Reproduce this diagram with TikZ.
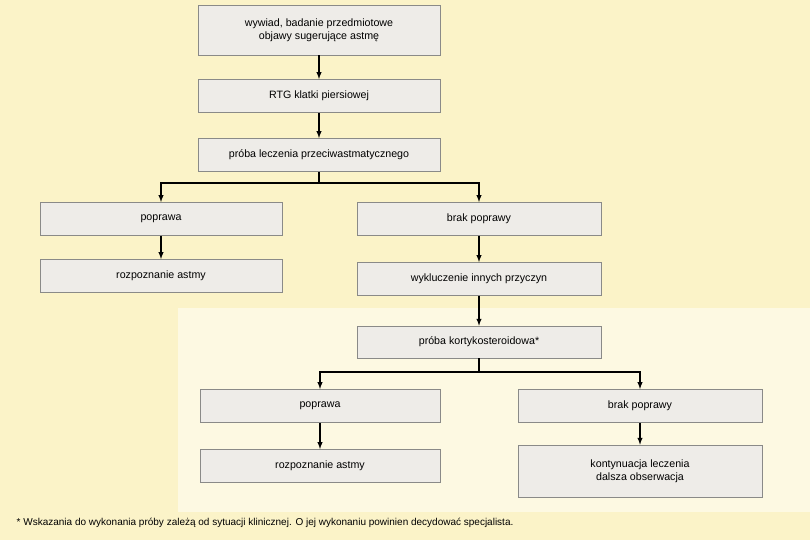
\documentclass[tikz,border=0pt]{standalone}
\usepackage{fontspec}
\setmainfont{Liberation Sans}
\usetikzlibrary{positioning}
\definecolor{bgyel}{HTML}{FBF3C8}
\definecolor{bgpale}{HTML}{FDF9E2}
\definecolor{boxfill}{HTML}{EEECE8}
\definecolor{boxline}{HTML}{8A8A88}
\begin{document}
\begin{tikzpicture}[x=0.75pt,y=-0.75pt,
    box/.style={draw=boxline, fill=boxfill, font=\fontsize{8}{10}\selectfont, align=center, inner sep=0pt},
    arr/.style={draw, thick, -latex},
    line/.style={draw, thick}
]
\fill[bgyel] (0,0) rectangle (810,540);
\useasboundingbox (0,0) rectangle (810,540);
\fill[bgpale] (178,308) rectangle (810,512);

% boxes
\node[box, minimum width=181.5pt, minimum height=37.5pt] (wywiad) at (319,30) {wywiad, badanie przedmiotowe\\objawy sugerujące astmę};
\node[box, minimum width=181.5pt, minimum height=25pt] (rtg) at (319,96) {RTG klatki piersiowej};
\node[box, minimum width=181.5pt, minimum height=25pt] (proba) at (319,155) {próba leczenia przeciwastmatycznego};
\node[box, minimum width=181.5pt, minimum height=25pt] (popr1) at (161,219) {poprawa};
\node[box, minimum width=183pt, minimum height=25pt] (brak1) at (479,219) {brak poprawy};
\node[box, minimum width=181.5pt, minimum height=25pt] (rozp1) at (161,276) {rozpoznanie astmy};
\node[box, minimum width=183pt, minimum height=25pt] (wykl) at (479,279) {wykluczenie innych przyczyn};
\node[box, minimum width=183pt, minimum height=24pt] (korty) at (479,342) {próba kortykosteroidowa*};
\node[box, minimum width=180pt, minimum height=25pt] (popr2) at (320,406) {poprawa};
\node[box, minimum width=183pt, minimum height=25pt] (brak2) at (640,406) {brak poprawy};
\node[box, minimum width=180pt, minimum height=25pt] (rozp2) at (320,466) {rozpoznanie astmy};
\node[box, minimum width=183pt, minimum height=39pt] (kont) at (640,471) {kontynuacja leczenia\\dalsza obserwacja};

% connectors
\path[arr] (wywiad) -- (rtg);
\path[arr] (rtg) -- (proba);
\coordinate (split1) at (319,183);
\path[line] (proba) -- (split1);
\path[arr] (split1) -| (popr1);
\path[arr] (split1) -| (brak1);
\path[arr] (popr1) -- (rozp1);
\path[arr] (brak1) -- (wykl);
\path[arr] (wykl) -- (korty);
\coordinate (split2) at (479,372);
\path[line] (korty) -- (split2);
\path[arr] (split2) -| (popr2);
\path[arr] (split2) -| (brak2);
\path[arr] (popr2) -- (rozp2);
\path[arr] (brak2) -- (kont);

\node[font=\fontsize{7.5}{9}\selectfont, anchor=west] (note) at (12,523) {* Wskazania do wykonania próby zależą od sytuacji klinicznej. O jej wykonaniu powinien decydować specjalista.};
\end{tikzpicture}
\end{document}
